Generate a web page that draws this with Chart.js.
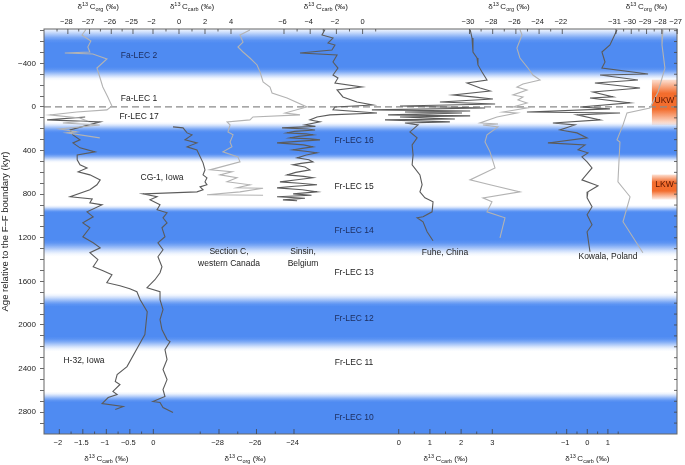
<!DOCTYPE html>
<html>
<head>
<meta charset="utf-8">
<script src="https://cdn.jsdelivr.net/npm/chart.js@4.4.1/dist/chart.umd.min.js"></script>
<style>
  html, body { margin: 0; padding: 0; background: #fff; }
  canvas { display: block; }
</style>
</head>
<body>
<canvas id="chart" width="685" height="465"></canvas>
<script>
// ---- data (age in kyr relative to the F-F boundary, isotope values in permil) ----
const leftOrgAge = [-710, -660, -605, -550, -504, -495, -485, -440, -357, -275, -183, -92, -9, 27, 46, 73, 101, 128, 147, 165, 202, 229, 238, 284];
const leftOrgVal = [-27.17, -27.35, -26.94, -27.08, -26.99, -28.14, -26.85, -26.2, -26.66, -26.53, -26.39, -26.16, -25.97, -26.2, -27.59, -28.83, -27.45, -27.12, -28.23, -26.53, -28.37, -27.59, -28.05, -26.53];

const h32Age = [92, 119, 137, 211, 256, 302, 330, 375, 412, 440, 485, 531, 559, 595, 623, 669, 714, 760, 824, 843, 879, 898, 962, 1008, 1063, 1108, 1191, 1246, 1292, 1337, 1401, 1466, 1502, 1539, 1612, 1640, 1667, 1695, 1768, 1878, 2088, 2134, 2382, 2455, 2519, 2546, 2610, 2638, 2666, 2721, 2748, 2775];
const h32Carb = [-1.45, -2.26, -1.13, -1.77, -1.71, -1.56, -1.71, -1.56, -1.24, -1.62, -1.62, -1.56, -1.41, -1.6, -1.35, -1.13, -1.2, -1.35, -1.77, -1.3, -1.35, -1.09, -1.41, -1.28, -1.5, -1.35, -1.5, -1.28, -1.13, -1.35, -1.18, -1.28, -1.07, -0.88, -0.99, -0.71, -0.5, -0.35, -0.28, -0.13, -0.18, -0.24, -0.56, -0.77, -0.81, -0.71, -0.86, -0.77, -0.96, -1.09, -0.64, -0.81];

const cg1Age = [183, 192, 238, 256, 302, 330, 366, 394, 513, 577, 623, 650, 687, 714, 733, 760, 779, 797, 824, 852, 898, 943, 971, 1017, 1063, 1108, 1191, 1246, 1310, 1374, 1466, 1521, 1585, 1658, 1695, 1768, 1859, 1951, 2042, 2134, 2152, 2226, 2317, 2409, 2501, 2592, 2656, 2702, 2711, 2757, 2803];
const cg1Carb = [-0.46, 0.31, 0.62, 1.0, 0.46, 1.38, 0.62, 1.38, 1.85, 2.0, 1.85, 2.15, 2.0, 2.15, 1.62, 1.85, 1.38, -2.77, -1.69, -2.23, -1.46, -1.69, -0.92, -1.23, -0.92, -1.31, -1.08, -1.62, -1.23, -1.62, -1.31, -1.46, -1.85, -2.46, -1.46, -1.46, -1.23, -1.46, -1.31, -0.92, -0.69, -1.08, -0.92, -1.23, -0.92, -1.23, -1.08, -2.0, -1.46, -1.23, -0.46];

const secCAge = [-705, -660, -595, -550, -504, -449, -385, -321, -229, -183, -128, -82, 0, 55, 73, 92, 119, 137, 165, 229, 256, 321, 366, 412, 458, 504, 577, 595, 623, 650, 687, 714, 742, 746, 779, 806, 810];
const secCOrg = [-26.35, -26.88, -26.72, -26.99, -26.72, -26.35, -25.97, -25.81, -25.65, -25.28, -25.17, -24.37, -23.31, -24.48, -23.68, -26.19, -26.35, -27.57, -27.41, -27.52, -27.25, -27.41, -27.31, -27.79, -26.99, -26.88, -28.48, -27.31, -27.95, -27.04, -27.57, -26.35, -27.04, -25.65, -26.88, -28.64, -25.65];

const sinsinAge = [-710, -660, -632, -586, -568, -522, -495, -476, -412, -357, -293, -266, -220, -183, -156, -92, -46, -18, 0, 27, 55, 73, 92, 119, 137, 165, 178, 192, 202, 211, 224, 238, 247, 256, 270, 284, 293, 302, 316, 330, 348, 366, 380, 394, 408, 421, 440, 467, 485, 504, 518, 531, 550, 577, 600, 623, 637, 650, 668, 687, 700, 714, 728, 742, 760, 779, 797, 810, 824, 838, 852, 861];
const sinsinCarb = [-2.87, -3.1, -2.26, -2.64, -2.11, -2.34, -4.78, -1.95, -2.26, -1.88, -2.26, -1.88, -2.11, -0.05, -1.95, -1.5, -0.43, 0.79, -2.11, -2.26, 1.1, -2.49, -3.48, -4.02, -3.25, -4.4, -3.6, -6.15, -4.2, -3.63, -5.2, -5.77, -4.3, -3.79, -4.9, -5.54, -4.0, -3.25, -5.0, -6.53, -4.5, -3.79, -4.6, -5.31, -4.2, -3.48, -4.3, -5.0, -4.1, -3.79, -4.7, -5.31, -4.4, -4.02, -5.1, -5.77, -4.5, -3.79, -5.0, -6.31, -4.8, -3.48, -5.2, -6.53, -4.6, -3.48, -5.3, -3.9, -6.53, -4.4, -6.08, -5.0];

const fuheAge = [-710, -632, -504, -449, -385, -321, -247, -220, -174, -147, -110, -92, -73, -46, -27, -9, 9, 27, 37, 46, 55, 73, 82, 92, 110, 119, 137, 147, 165, 229, 284, 348, 440, 531, 623, 714, 779, 834, 870, 962, 1008, 1017, 1053, 1145, 1227];
const fuheCarb = [2.29, 2.35, 2.38, 2.51, 2.54, 2.67, 2.83, 2.19, 2.61, 2.93, 1.74, 2.38, 3.02, 1.32, 3.09, 0.04, 2.77, -0.86, 2.29, 0.2, 2.03, -0.34, 2.29, 0.04, 1.8, -0.44, 1.64, 0.2, 0.62, 0.36, 0.59, 0.43, 0.46, 0.43, 0.68, 0.75, 0.68, 0.84, 1.1, 1.07, 0.78, 0.59, 0.78, 0.91, 1.1];

const fuheOrgAge = [-710, -660, -540, -449, -357, -293, -247, -211, -183, -156, -110, -92, -64, -37, 0, 9, 46, 55, 92, 147, 156, 165, 183, 256, 321, 412, 559, 669, 714, 779, 834, 870, 962, 1017, 1200];
const fuheOrg = [-25.65, -25.47, -25.91, -25.65, -24.96, -24.53, -23.92, -25.39, -25.91, -25.04, -26.25, -25.39, -25.82, -25.04, -26.25, -25.04, -27.11, -25.91, -27.63, -29.09, -27.54, -28.84, -27.54, -28.49, -28.66, -28.23, -27.8, -29.96, -28.23, -25.65, -28.84, -28.06, -28.49, -26.94, -27.37];

const kowalaAge = [-705, -568, -504, -412, -357, -302, -293, -247, -220, -174, -137, -92, -82, -37, 0, 18, 46, 55, 73, 119, 147, 165, 211, 238, 284, 330, 348, 394, 421, 458, 504, 559, 669, 723, 779, 834, 916, 989, 1081, 1145, 1328];
const kowalaCarb = [1.44, 1.1, 0.71, 0.86, 0.71, 2.95, 0.62, 2.46, 0.37, 2.56, 0.28, 1.25, 0.13, 2.07, -0.35, 1.1, -2.93, 1.59, -0.5, 0.62, -1.67, -0.6, -1.33, -0.5, -0.01, -1.91, -0.11, -0.45, 0.03, -0.26, -0.01, 0.23, -0.26, 0.52, 0.03, -0.01, 0.23, -0.01, 0.23, -0.01, 0.13];

const kowalaOrgAge = [-705, -568, -357, -137, 9, 55, 165, 302, 321, 687, 824, 1053, 1337];
const kowalaOrg = [-27.93, -27.99, -27.8, -28.25, -28.78, -30.28, -30.54, -30.93, -30.74, -30.87, -30.08, -30.54, -29.24];

// long eccentricity cycles: [fade start, full start, full end, fade end] in kyr
const lecBands = [[-740, -586, -366, -240], [135, 238, 421, 513], [898, 971, 1218, 1374], [1704, 1832, 2107, 2244], [2610, 2711, 3100, 3200]];
const lecNames = ['Fa-LEC 2', 'Fa-LEC 1', 'Fr-LEC 17', 'Fr-LEC 16', 'Fr-LEC 15', 'Fr-LEC 14', 'Fr-LEC 13', 'Fr-LEC 12', 'Fr-LEC 11', 'Fr-LEC 10'];
const lecAges = [-467, -73, 92, 311, 733, 1136, 1521, 1942, 2345, 2849];

// Kellwasser horizons at Kowala
const kwNames = ['UKW', 'LKW'];
const kwFrom = [-250, 620];
const kwTo = [165, 850];

const ageTickLabels = [-400, 0, 400, 800, 1200, 1600, 2000, 2400, 2800];

// ---- styling ----
const FONT = '"Liberation Sans", Arial, sans-serif';
const DARK = '#5b5b5b';
const LIGHT = '#b3b3b3';
const BLUE = [79, 139, 242];
const ORANGE = [242, 101, 34];
const MINUS = '\u2212';
const fmt = v => (v < 0 ? MINUS + Math.abs(v) : String(v));

// one hidden linear scale per record; visible ticks are drawn from the same scales
const xAxes = [
  { id: 'xLeftOrg', side: 'top', min: -29.1, max: 0.07, major: [-28, -27, -26, -25], minor: [-28.5, -27.5, -26.5, -25.5], sub: 'org', titleAt: -26.6 },
  { id: 'xCg1', side: 'top', min: -10.385, max: 38.31, major: [-2, 0, 2, 4], minor: [-1, 1, 3], sub: 'carb', titleAt: 1 },
  { id: 'xSinsin', side: 'top', min: -24.32, max: 24.0, major: [-6, -4, -2, 0], minor: [-5, -3, -1, 1], sub: 'carb', titleAt: -2.8 },
  { id: 'xFuheOrg', side: 'top', min: -66.68, max: -12.11, major: [-30, -28, -26, -24, -22], minor: [-29, -27, -25, -23], sub: 'org', titleAt: -26.6 },
  { id: 'xKowOrg', side: 'top', min: -68.39, max: -27.01, major: [-31, -30, -29, -28, -27], minor: [-30.5, -29.5, -28.5, -27.5], sub: 'org', titleAt: -29 },
  { id: 'xH32', side: 'bottom', min: -2.326, max: 11.14, major: [-2, -1.5, -1, -0.5, 0], minor: [-1.75, -1.25, -0.75, -0.25], sub: 'carb', titleAt: -1 },
  { id: 'xSecC', side: 'bottom', min: -37.333, max: -3.573, major: [-28, -26, -24], minor: [-29, -27, -25], sub: 'org', titleAt: -26.6 },
  { id: 'xFuheCarb', side: 'bottom', min: -11.37, max: 8.92, major: [0, 1, 2, 3], minor: [0.5, 1.5, 2.5], sub: 'carb', titleAt: 1.5 },
  { id: 'xKowCarb', side: 'bottom', min: -26.37, max: 4.354, major: [-1, 0, 1], minor: [-1.5, -0.5, 0.5, 1.5], sub: 'carb', titleAt: 0 },
];

const sectionLabels = [
  { lines: ['CG-1, Iowa'], x: 162, age: 650 },
  { lines: ['Section C,', 'western Canada'], x: 229, age: 1383 },
  { lines: ['Sinsin,', 'Belgium'], x: 303, age: 1383 },
  { lines: ['Fuhe, China'], x: 445, age: 1337 },
  { lines: ['Kowala, Poland'], x: 608, age: 1374 },
  { lines: ['H-32, Iowa'], x: 84, age: 2327 },
];

function line(age, vals, axis, color) {
  return {
    data: age.map((a, i) => ({ x: vals[i], y: a })),
    xAxisID: axis, yAxisID: 'y',
    showLine: true, pointRadius: 0, borderWidth: 1.1,
    borderColor: color, fill: false, tension: 0,
  };
}

const datasets = [
  line(leftOrgAge, leftOrgVal, 'xLeftOrg', LIGHT),
  line(secCAge, secCOrg, 'xSecC', LIGHT),
  line(fuheOrgAge, fuheOrg, 'xFuheOrg', LIGHT),
  line(kowalaOrgAge, kowalaOrg, 'xKowOrg', LIGHT),
  line(h32Age, h32Carb, 'xH32', DARK),
  line(cg1Age, cg1Carb, 'xCg1', DARK),
  line(sinsinAge, sinsinCarb, 'xSinsin', DARK),
  line(fuheAge, fuheCarb, 'xFuheCarb', DARK),
  line(kowalaAge, kowalaCarb, 'xKowCarb', DARK),
];

function rgba(c, a) { return 'rgba(' + c[0] + ',' + c[1] + ',' + c[2] + ',' + a + ')'; }

function isoTitle(ctx, cx, cy, sub) {
  const big = '8px ' + FONT, small = '5.5px ' + FONT;
  const parts = [['\u03b4', big, 0], ['13', small, -3], ['\u2009C', big, 0], [sub, small, 2], [' (\u2030)', big, 0]];
  let w = 0;
  parts.forEach(p => { ctx.font = p[1]; p.push(ctx.measureText(p[0]).width); w += p[3]; });
  let x = cx - w / 2;
  ctx.textAlign = 'left';
  ctx.textBaseline = 'middle';
  parts.forEach(p => { ctx.font = p[1]; ctx.fillText(p[0], x, cy + p[2]); x += p[3]; });
}

const overlay = {
  id: 'overlay',
  beforeDatasetsDraw(chart) {
    const { ctx, chartArea: a, scales } = chart;
    const y = scales.y;
    ctx.save();
    ctx.beginPath();
    ctx.rect(a.left, a.top, a.right - a.left, a.bottom - a.top);
    ctx.clip();

    // blue LEC bands with soft edges
    lecBands.forEach(b => {
      const p = b.map(v => y.getPixelForValue(v));
      const h = p[3] - p[0];
      const g = ctx.createLinearGradient(0, p[0], 0, p[3]);
      for (let i = 0; i <= 6; i++) {
        const t = i / 6, s = t * t * (3 - 2 * t);
        g.addColorStop((p[1] - p[0]) / h * t, rgba(BLUE, s));
        g.addColorStop(1 - (p[3] - p[2]) / h * t, rgba(BLUE, s));
      }
      ctx.fillStyle = g;
      ctx.fillRect(a.left, p[0], a.right - a.left, h);
    });

    // Kellwasser boxes
    const xk = scales.xKowOrg.getPixelForValue(-28.65);
    kwNames.forEach((name, i) => {
      const y0 = y.getPixelForValue(kwFrom[i]), y1 = y.getPixelForValue(kwTo[i]);
      const g = ctx.createLinearGradient(0, y0, 0, y1);
      g.addColorStop(0, rgba(ORANGE, 0.2));
      g.addColorStop(0.3, rgba(ORANGE, 0.95));
      g.addColorStop(0.65, rgba(ORANGE, 0.95));
      g.addColorStop(1, rgba(ORANGE, 0.1));
      ctx.fillStyle = g;
      ctx.fillRect(xk, y0, a.right - xk, y1 - y0);
    });

    // F-F boundary
    const y0 = y.getPixelForValue(0);
    ctx.strokeStyle = '#8a8a8a';
    ctx.lineWidth = 1.3;
    ctx.setLineDash([7, 4]);
    ctx.beginPath();
    ctx.moveTo(a.left, y0);
    ctx.lineTo(a.right, y0);
    ctx.stroke();
    ctx.restore();
  },
  afterDatasetsDraw(chart) {
    const { ctx, chartArea: a, scales } = chart;
    const y = scales.y;
    ctx.save();

    // frame
    ctx.strokeStyle = '#666';
    ctx.lineWidth = 1;
    ctx.strokeRect(a.left, a.top, a.right - a.left, a.bottom - a.top);

    // right side inward ticks
    ctx.strokeStyle = '#444';
    ctx.lineWidth = 0.8;
    ctx.beginPath();
    for (let v = -700; v <= 2900; v += 100) {
      const py = y.getPixelForValue(v);
      ctx.moveTo(a.right, py);
      ctx.lineTo(a.right - 3, py);
    }
    ctx.stroke();

    // top and bottom isotope axes
    xAxes.forEach(ax => {
      const sc = scales[ax.id];
      const top = ax.side === 'top';
      const base = top ? a.top : a.bottom;
      const dir = top ? 1 : -1;
      ctx.strokeStyle = '#444';
      ctx.lineWidth = 0.8;
      ctx.beginPath();
      ax.major.forEach(v => { const px = sc.getPixelForValue(v); ctx.moveTo(px, base); ctx.lineTo(px, base + dir * 5); });
      ax.minor.forEach(v => { const px = sc.getPixelForValue(v); ctx.moveTo(px, base); ctx.lineTo(px, base + dir * 2.5); });
      ctx.stroke();

      ctx.fillStyle = '#222';
      ctx.font = '7.5px ' + FONT;
      ctx.textAlign = 'center';
      ctx.textBaseline = 'middle';
      ax.major.forEach(v => {
        const px = sc.getPixelForValue(v);
        ctx.fillText(fmt(v), px - (v < 0 ? 1.5 : 0), top ? a.top - 7 : a.bottom + 9);
      });
      isoTitle(ctx, sc.getPixelForValue(ax.titleAt), top ? 7 : a.bottom + 25, ax.sub);
    });

    // LEC labels
    ctx.font = '8.5px ' + FONT;
    ctx.textAlign = 'center';
    ctx.textBaseline = 'middle';
    lecNames.forEach((name, i) => {
      const x = name.startsWith('Fa') || name === 'Fr-LEC 17' ? 139 : 354;
      ctx.fillStyle = ['Fa-LEC 2', 'Fr-LEC 16', 'Fr-LEC 14', 'Fr-LEC 12', 'Fr-LEC 10'].includes(name) ? '#1c2c5c' : '#222';
      ctx.fillText(name, x, y.getPixelForValue(lecAges[i]));
    });

    // section names
    ctx.fillStyle = '#222';
    sectionLabels.forEach(s => {
      const cy = y.getPixelForValue(s.age) - (s.lines.length - 1) * 6;
      s.lines.forEach((t, k) => ctx.fillText(t, s.x, cy + k * 12));
    });

    // Kellwasser labels
    const xk = scales.xKowOrg.getPixelForValue(-28.65);
    ctx.fillStyle = '#5a1500';
    kwNames.forEach((name, i) => {
      ctx.fillText(name, (xk + a.right) / 2, y.getPixelForValue((kwFrom[i] + kwTo[i]) / 2) - 2);
    });
    ctx.restore();
  },
};

const scales = {
  y: {
    type: 'linear', reverse: true, min: -715, max: 3000,
    afterBuildTicks: s => {
      const t = [];
      for (let v = -700; v <= 2900; v += 100) t.push({ value: v });
      s.ticks = t;
    },
    afterFit: s => { s.width = 44; },
    ticks: {
      autoSkip: false, maxRotation: 0, padding: 4, color: '#222',
      font: { family: FONT, size: 8 },
      callback: v => (ageTickLabels.includes(v) ? fmt(v) : ''),
    },
    grid: { drawOnChartArea: false, tickLength: 4, color: '#444', lineWidth: 0.8 },
    border: { display: false },
    title: {
      display: true, text: 'Age relative to the F\u2013F boundary (kyr)', color: '#222',
      font: { family: FONT, size: 9.5 }, padding: { top: 0, bottom: 2 },
    },
  },
};
xAxes.forEach(ax => { scales[ax.id] = { type: 'linear', display: false, min: ax.min, max: ax.max }; });

new Chart(document.getElementById('chart'), {
  type: 'scatter',
  data: { datasets },
  options: {
    responsive: false,
    animation: false,
    layout: { padding: { top: 29, bottom: 31, right: 8, left: 0 } },
    plugins: { legend: { display: false }, tooltip: { enabled: false } },
    scales,
  },
  plugins: [overlay],
});
</script>
</body>
</html>
